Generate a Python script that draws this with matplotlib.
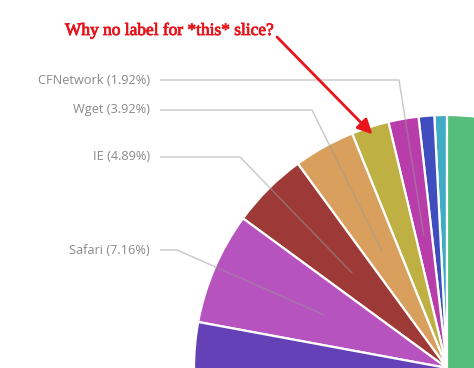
import numpy as np
import matplotlib
matplotlib.use("Agg")
import matplotlib.pyplot as plt
import matplotlib.patheffects as pe

# slices, counter-clockwise from 12 o'clock (only the upper-left part is visible)
names = ['', '', 'CFNetwork', '', 'Wget', 'IE', 'Safari', '', '']
shares = [0.8, 1.0, 1.92, 2.4, 3.92, 4.89, 7.16, 12.0, 65.91]
colors = ['#3fabc4', '#3f4dbf', '#b83caa', '#bfb043', '#d9a05d',
          '#9d3a37', '#b753bf', '#6441b6', '#55be7c']

# label layout (pixels): text y, bend x of the connector
label_y_px = {'CFNetwork': 80, 'Wget': 110, 'IE': 157, 'Safari': 250}
bend_x_px = {'CFNetwork': 399, 'Wget': 312, 'IE': 240, 'Safari': 177}

W, H = 474, 368
CX, CY, R = 447, 368, 253


def px(x, y):
    return (x - CX) / R, (CY - y) / R


fig = plt.figure(figsize=(W / 100, H / 100), dpi=100)
ax = fig.add_axes([0, 0, 1, 1])

wedges, _ = ax.pie(shares, colors=colors, startangle=90, counterclock=True,
                   radius=1.0, center=(0, 0),
                   wedgeprops={'edgecolor': 'white', 'linewidth': 1.6})
ax.set_xlim(px(0, 0)[0], px(W, 0)[0])
ax.set_ylim(px(0, H)[1], px(0, 0)[1])
ax.set_aspect('equal')
ax.axis('off')

pct = 100 * np.array(shares) / sum(shares)
for w, name, p in zip(wedges, names, pct):
    if not name:
        continue
    mid = np.deg2rad((w.theta1 + w.theta2) / 2)
    ex, ey = 0.53 * np.cos(mid), 0.53 * np.sin(mid)
    lx, ly = px(160, label_y_px[name])
    bx, _ = px(bend_x_px[name], 0)
    ax.plot([lx, bx, ex], [ly, ly, ey], color='#999999', alpha=0.5, lw=1.1,
            zorder=3, solid_capstyle='butt')
    tx, _ = px(150, 0)
    ax.text(tx, ly, f'{name} ({p:.2f}%)', ha='right', va='center',
            fontsize=9.2, color='#8a8a8a', family='Open Sans', zorder=4)

# annotation pointing to the unlabeled slice
olive = wedges[3]
mid = np.deg2rad((olive.theta1 + olive.theta2) / 2)
tip = (0.97 * np.cos(mid), 0.97 * np.sin(mid))
ax.annotate('', xy=tip, xytext=px(277, 37),
            arrowprops=dict(arrowstyle='-|>', color='#e8141c', lw=2,
                            mutation_scale=22, shrinkA=0, shrinkB=0),
            zorder=5)
ax.text(*px(65, 31), 'Why no label for *this* slice?', ha='left', va='center',
        fontsize=12.5, color='#e8141c', family='Liberation Serif', zorder=5,
        path_effects=[pe.withStroke(linewidth=0.6, foreground='#e8141c')])

fig.savefig('out.png', dpi=100)
